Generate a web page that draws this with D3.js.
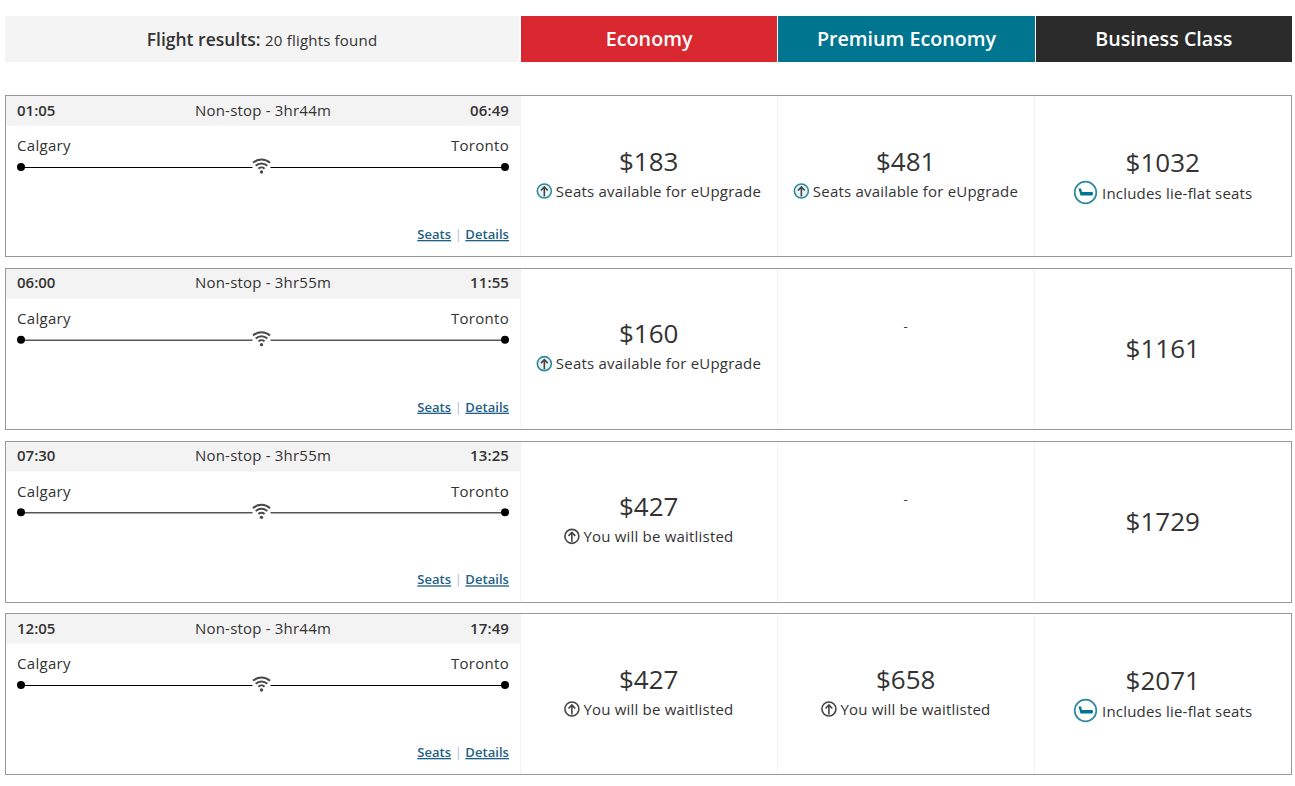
<!DOCTYPE html>
<html>
<head>
<meta charset="utf-8">
<script src="https://cdn.jsdelivr.net/npm/d3@7/dist/d3.min.js"></script>
<style>
html, body { margin: 0; padding: 0; background: #fff; }
svg { display: block; font-family: "Open Sans", sans-serif; }
text { fill: #333; }
</style>
</head>
<body>
<svg></svg>
<script>
const classNames = ['Economy', 'Premium Economy', 'Business Class'];
const classColors = ['#d9282f', '#00758f', '#2b2b2b'];
const departTimes = ['01:05', '06:00', '07:30', '12:05'];
const arriveTimes = ['06:49', '11:55', '13:25', '17:49'];
const durations = ['3hr44m', '3hr55m', '3hr55m', '3hr44m'];
const economyPrices = [183, 160, 427, 427];
const premiumPrices = [481, null, null, 658];
const businessPrices = [1032, 1161, 1729, 2071];
const economyNotes = ['upgrade', 'upgrade', 'waitlist', 'waitlist'];
const premiumNotes = ['upgrade', null, null, 'waitlist'];
const businessNotes = ['lieflat', null, null, 'lieflat'];

const noteText = {
	upgrade: 'Seats available for eUpgrade',
	waitlist: 'You will be waitlisted',
	lieflat: 'Includes lie-flat seats'
};

const width = 1295, height = 786;
const svg = d3.select('svg').attr('width', width).attr('height', height);

const xClass = d3.scaleBand().domain(classNames).range([520.5, 1292.5]);
const yRow = d3.scalePoint().domain(d3.range(4)).range([95.5, 613.5]);
const teal = '#2f8aa0';

// boxes land on whole pixels, text keeps the fractional row position
const snapOffset = i => Math.floor(yRow(i) + 0.2) + 0.5 - yRow(i);

// header
svg.append('rect').attr('x', 5).attr('y', 16).attr('width', 514).attr('height', 46).attr('fill', '#f4f4f4');
const title = svg.append('text').attr('x', 262).attr('y', 46).attr('text-anchor', 'middle');
title.append('tspan').attr('font-size', 17.5).attr('font-weight', 600).text('Flight results: ');
title.append('tspan').attr('font-size', 15).attr('letter-spacing', 0.2).text('20 flights found');

svg.selectAll('.classHead')
	.data(classNames)
	.enter().append('rect')
	.attr('class', 'classHead')
	.attr('x', d => Math.round(xClass(d) + 0.5))
	.attr('y', 16)
	.attr('width', d => Math.round(xClass(d) + xClass.bandwidth() - 0.5) - Math.round(xClass(d) + 0.5))
	.attr('height', 46)
	.attr('fill', (d, i) => classColors[i]);

svg.selectAll('.classLabel')
	.data(classNames)
	.enter().append('text')
	.attr('class', 'classLabel')
	.attr('x', d => xClass(d) + xClass.bandwidth() / 2)
	.attr('y', 46)
	.attr('text-anchor', 'middle')
	.attr('font-size', 19.7)
	.attr('font-weight', 600)
	.style('fill', '#fff')
	.text(d => d);

const rows = svg.selectAll('.row')
	.data(d3.range(4))
	.enter().append('g')
	.attr('class', 'row')
	.attr('transform', d => `translate(0, ${yRow(d)})`);

rows.each(function(i) {
	const g = d3.select(this);

	// time strip
	g.append('rect').attr('x', 6).attr('y', snapOffset(i)).attr('width', 514).attr('height', 30).attr('fill', '#f3f3f3');
	g.append('text').attr('x', 17).attr('y', 20).attr('font-size', 15).attr('font-weight', 600).text(departTimes[i]);
	g.append('text').attr('x', 263).attr('y', 20).attr('font-size', 15).attr('letter-spacing', 0.2).attr('text-anchor', 'middle')
		.text('Non-stop - ' + durations[i]);
	g.append('text').attr('x', 509).attr('y', 20).attr('font-size', 15).attr('font-weight', 600).attr('letter-spacing', 0.1)
		.attr('text-anchor', 'end').text(arriveTimes[i]);

	// route
	g.append('text').attr('x', 17).attr('y', 55.9).attr('font-size', 15).attr('letter-spacing', 0.3).text('Calgary');
	g.append('text').attr('x', 509).attr('y', 55.9).attr('font-size', 15).attr('letter-spacing', 0.3).attr('text-anchor', 'end').text('Toronto');
	g.append('line').attr('x1', 21).attr('x2', 505).attr('y1', 72).attr('y2', 72).attr('stroke', '#000').attr('stroke-width', 1);
	g.append('circle').attr('cx', 21).attr('cy', 71.5).attr('r', 4).attr('fill', '#000');
	g.append('circle').attr('cx', 505).attr('cy', 71.5).attr('r', 4).attr('fill', '#000');

	// wifi icon sits on a white gap in the line
	const wifi = g.append('g').attr('transform', 'translate(261.5, 76.5)');
	wifi.append('rect').attr('x', -9).attr('y', -15).attr('width', 18).attr('height', 20).attr('fill', '#fff');
	[4.5, 8.5, 12.5].forEach(r => {
		wifi.append('path')
			.attr('d', d3.arc().innerRadius(r - 1).outerRadius(r + 1).startAngle(-0.75).endAngle(0.75)())
			.attr('fill', '#4a4a4a');
	});
	wifi.append('circle').attr('cx', 0).attr('cy', 0).attr('r', 1.7).attr('fill', '#4a4a4a');

	// links
	const links = g.append('text').attr('x', 509).attr('y', 143.5).attr('font-size', 13)
		.attr('font-weight', 600).attr('letter-spacing', 0.05).attr('text-anchor', 'end');
	links.append('tspan').style('fill', '#1d5f86').attr('text-decoration', 'underline').text('Seats');
	links.append('tspan').style('fill', '#9fc3d9').attr('font-weight', 400).attr('dx', 3.5).text('|');
	links.append('tspan').style('fill', '#1d5f86').attr('text-decoration', 'underline').attr('dx', 3.5).text('Details');

	// fare cells
	const prices = [economyPrices[i], premiumPrices[i], businessPrices[i]];
	const notes = [economyNotes[i], premiumNotes[i], businessNotes[i]];
	classNames.forEach((name, c) => {
		const cx = xClass(name) + xClass.bandwidth() / 2 - 0.5 - c * 0.3;
		if (prices[c] === null) {
			g.append('text').attr('x', cx).attr('y', 63).attr('font-size', 13).attr('text-anchor', 'middle').text('-');
			return;
		}
		const lie = notes[c] === 'lieflat';
		const priceY = notes[c] === null ? 89.9 : (lie ? 76.5 : 75);
		g.append('text').attr('x', cx).attr('y', priceY).attr('font-size', 26).attr('text-anchor', 'middle')
			.text('$' + prices[c]);
		if (notes[c]) drawNote(g, cx, notes[c]);
	});
});

function drawNote(g, cx, type) {
	const lie = type === 'lieflat';
	const iconW = lie ? 29 : 19.5;
	const y = lie ? 103.5 : 101;
	const label = g.append('text').attr('y', y).attr('font-size', 15).attr('letter-spacing', 0.2).text(noteText[type]);
	const w = label.node().getComputedTextLength();
	const left = cx - (w + iconW) / 2;
	label.attr('x', left + iconW);
	if (lie) {
		const icon = g.append('g').attr('transform', `translate(${left + 12.5}, 97)`);
		icon.append('circle').attr('r', 10.8).attr('fill', '#fff').attr('stroke', teal).attr('stroke-width', 1.7);
		icon.append('path').attr('d', 'M-7,-4 L-4.5,-4 L-3.5,-0.5 L7,-0.5 Q8,1 7,3 L-5,3 Z').attr('fill', '#00758f');
	} else {
		const color = type === 'upgrade' ? teal : '#444';
		const icon = g.append('g').attr('transform', `translate(${left + 8}, 95.5)`);
		icon.append('circle').attr('r', 7).attr('fill', type === 'upgrade' ? '#e8f3f6' : '#fff').attr('stroke', color).attr('stroke-width', 1.6);
		icon.append('path').attr('d', 'M0,5.5 L0,-3.5 M-3.4,-0.5 L0,-4 L3.4,-0.5').attr('fill', 'none').attr('stroke', '#444').attr('stroke-width', 1.6);
	}
}

// borders and dotted cell dividers go on last
rows.append('rect')
	.attr('x', 5.5).attr('y', d => snapOffset(d)).attr('width', 1286).attr('height', 161)
	.attr('fill', 'none').attr('stroke', '#999').attr('stroke-width', 1);
rows.selectAll('.divider')
	.data(classNames)
	.enter().append('line')
	.attr('class', 'divider')
	.attr('x1', d => Math.floor(xClass(d) - 0.3) + 0.5).attr('x2', d => Math.floor(xClass(d) - 0.3) + 0.5)
	.attr('y1', 1).attr('y2', 160)
	.attr('stroke', '#e6e6e6').attr('stroke-dasharray', '1,1');
</script>
</body>
</html>
